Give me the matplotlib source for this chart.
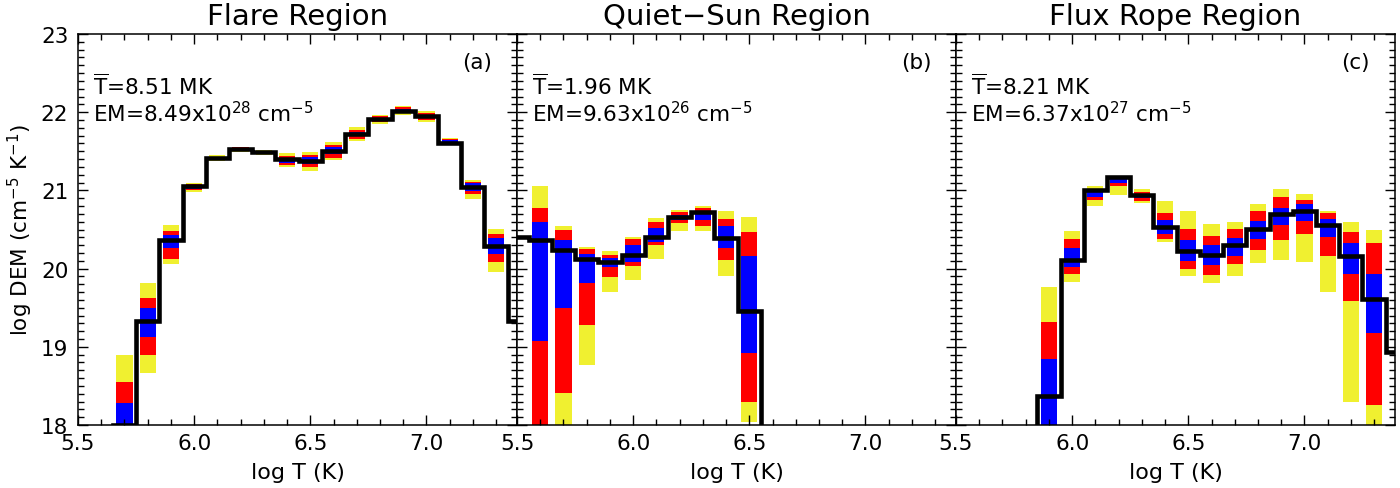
import matplotlib.pyplot as plt
import numpy as np
from matplotlib.ticker import MultipleLocator, FormatStrFormatter

plt.rcParams['font.family'] = ['DejaVu Sans']
plt.rcParams['mathtext.default'] = 'regular'

# --- Flare region (a) ---
flare_t = [5.7, 5.8, 5.9, 6.0, 6.1, 6.2, 6.3, 6.4, 6.5, 6.6, 6.7, 6.8, 6.9, 7.0, 7.1, 7.2, 7.3, 7.4]
flare_dem = [18.0, 19.33, 20.36, 21.06, 21.42, 21.53, 21.49, 21.40, 21.38, 21.51, 21.72, 21.91,
             22.02, 21.95, 21.61, 21.04, 20.29, 19.33]
flare_bt = [5.7, 5.8, 5.9, 6.0, 6.1, 6.2, 6.3, 6.4, 6.5, 6.6, 6.7, 6.8, 6.9, 7.0, 7.1, 7.2, 7.3]
flare_yel = [(17.5, 18.895), (18.665, 19.82), (20.06, 20.56), (20.98, 21.10), (21.37, 21.45),
             (21.49, 21.56), (21.45, 21.52), (21.295, 21.474), (21.253, 21.487), (21.393, 21.615),
             (21.636, 21.806), (21.849, 21.964), (21.964, 22.083), (21.879, 22.011), (21.58, 21.67),
             (20.89, 21.137), (19.953, 20.507)]
flare_red = [(17.7, 18.555), (18.895, 19.62), (20.12, 20.48), (21.00, 21.08), (21.39, 21.43),
             (21.51, 21.55), (21.47, 21.51), (21.325, 21.444), (21.295, 21.457), (21.42, 21.58),
             (21.657, 21.777), (21.87, 21.947), (21.99, 22.062), (21.90, 21.99), (21.593, 21.657),
             (20.954, 21.11), (20.08, 20.443)]
flare_blu = [(17.9, 18.28), (19.13, 19.50), (20.27, 20.43), (21.02, 21.06), (21.40, 21.42),
             (21.52, 21.54), (21.48, 21.50), (21.35, 21.414), (21.337, 21.423), (21.466, 21.55),
             (21.692, 21.743), (21.892, 21.926), (22.006, 22.04), (21.921, 21.964), (21.606, 21.64),
             (20.997, 21.09), (20.188, 20.388)]

# --- Quiet-Sun region (b) ---
quiet_t = [5.5, 5.6, 5.7, 5.8, 5.9, 6.0, 6.1, 6.2, 6.3, 6.4, 6.5]
quiet_dem = [20.41, 20.36, 20.24, 20.12, 20.08, 20.17, 20.40, 20.655, 20.72, 20.39, 19.46]
quiet_bt = [5.6, 5.7, 5.8, 5.9, 6.0, 6.1, 6.2, 6.3, 6.4, 6.5]
quiet_yel = [(17.5, 21.06), (17.5, 20.55), (18.77, 20.28), (19.70, 20.22), (19.86, 20.41),
             (20.12, 20.645), (20.48, 20.75), (20.48, 20.80), (19.90, 20.74), (18.04, 20.655)]
quiet_red = [(17.7, 20.77), (18.41, 20.50), (19.28, 20.25), (19.89, 20.17), (20.03, 20.38),
             (20.30, 20.59), (20.58, 20.72), (20.55, 20.77), (20.11, 20.64), (18.30, 20.47)]
quiet_blu = [(19.08, 20.60), (19.50, 20.36), (19.82, 20.19), (20.02, 20.13), (20.09, 20.30),
             (20.34, 20.52), (20.62, 20.69), (20.62, 20.74), (20.26, 20.54), (18.92, 20.16)]

# --- Flux rope region (c) ---
rope_t = [5.9, 6.0, 6.1, 6.2, 6.3, 6.4, 6.5, 6.6, 6.7, 6.8, 6.9, 7.0, 7.1, 7.2, 7.3, 7.4]
rope_dem = [18.375, 20.11, 21.00, 21.17, 20.94, 20.53, 20.23, 20.17, 20.30, 20.51, 20.70, 20.74,
            20.56, 20.16, 19.61, 18.93]
rope_bt = [5.9, 6.0, 6.1, 6.2, 6.3, 6.4, 6.5, 6.6, 6.7, 6.8, 6.9, 7.0, 7.1, 7.2, 7.3]
rope_yel = [(17.5, 19.76), (19.83, 20.477), (20.805, 21.06), (20.94, 21.188), (20.84, 21.017),
            (20.344, 20.868), (19.91, 20.74), (19.81, 20.57), (19.90, 20.60), (20.07, 20.825),
            (20.114, 21.017), (20.088, 20.95), (19.705, 20.74), (18.30, 20.60), (17.5, 20.50)]
rope_red = [(17.7, 19.32), (19.93, 20.38), (20.88, 21.017), (21.06, 21.18), (20.87, 20.98),
            (20.38, 20.71), (19.994, 20.51), (19.92, 20.42), (20.06, 20.51), (20.24, 20.74),
            (20.37, 20.92), (20.44, 20.88), (20.165, 20.71), (19.59, 20.47), (18.26, 20.33)]
rope_blu = [(17.9, 18.84), (20.016, 20.27), (20.911, 20.996), (21.095, 21.146), (20.90, 20.95),
            (20.44, 20.62), (20.10, 20.36), (20.05, 20.30), (20.157, 20.39), (20.38, 20.61),
            (20.56, 20.78), (20.61, 20.825), (20.40, 20.635), (19.93, 20.33), (19.18, 19.93)]

titles = ['Flare Region', 'Quiet\u2212Sun Region', 'Flux Rope Region']
letters = ['(a)', '(b)', '(c)']
tmean = ['8.51', '1.96', '8.21']
em_mant = ['8.49', '9.63', '6.37']
em_exp = ['28', '26', '27']

YELLOW = '#f0f030'
RED = '#ff0000'
BLUE = '#0000ff'


def draw_panel(ax, logt, dem, bt, yel, red, blu):
    # nested uncertainty ranges: yellow (outer), red, blue (inner)
    for rng, col in ((yel, YELLOW), (red, RED), (blu, BLUE)):
        lo = np.array([r[0] for r in rng])
        hi = np.array([r[1] for r in rng])
        ax.bar(bt, hi - lo, bottom=lo, width=0.07, color=col, linewidth=0, zorder=1)
    logt = np.array(logt)
    edges = np.append(logt - 0.05, logt[-1] + 0.05)
    ax.stairs(dem, edges, baseline=17.0, color='k', linewidth=3.3, zorder=3)


fig = plt.figure(figsize=(14, 4.89), dpi=100)
lefts = [78 / 1400, 517 / 1400, 956 / 1400]
data = [(flare_t, flare_dem, flare_bt, flare_yel, flare_red, flare_blu),
        (quiet_t, quiet_dem, quiet_bt, quiet_yel, quiet_red, quiet_blu),
        (rope_t, rope_dem, rope_bt, rope_yel, rope_red, rope_blu)]

for i, d in enumerate(data):
    ax = fig.add_axes([lefts[i], 0.1288, 439 / 1400, 0.7996])
    draw_panel(ax, *d)
    ax.set_xlim(5.5, 7.39)
    ax.set_ylim(18, 23)
    ax.xaxis.set_major_locator(MultipleLocator(0.5))
    ax.xaxis.set_minor_locator(MultipleLocator(0.1))
    ax.xaxis.set_major_formatter(FormatStrFormatter('%.1f'))
    ax.yaxis.set_major_locator(MultipleLocator(1))
    ax.yaxis.set_minor_locator(MultipleLocator(0.1))
    ax.tick_params(which='both', direction='in', top=True, right=True, width=1)
    ax.tick_params(which='major', length=7, labelsize=15.5)
    ax.tick_params(which='minor', length=4)
    ax.tick_params(axis='x', pad=6)
    ax.tick_params(axis='y', pad=7)
    for sp in ax.spines.values():
        sp.set_linewidth(1.1)
    if i > 0:
        ax.tick_params(labelleft=False)
    else:
        ax.set_ylabel('log DEM (cm$^{-5}$ K$^{-1}$)', fontsize=15.5, labelpad=4)
    ax.set_xlabel('log T (K)', fontsize=16, labelpad=6)
    ax.set_title(titles[i], fontsize=21, pad=7)
    ax.text(0.034, 0.87, r'$\overline{\mathrm{T}}$=' + tmean[i] + ' MK', transform=ax.transAxes,
            fontsize=15.5, va='center', ha='left')
    ax.text(0.034, 0.80, 'EM=' + em_mant[i] + 'x10$^{' + em_exp[i] + '}$ cm$^{-5}$',
            transform=ax.transAxes, fontsize=15.5, va='center', ha='left')
    ax.text(0.909, 0.928, letters[i], transform=ax.transAxes, fontsize=15.5, va='center', ha='center')

fig.savefig('out.png', dpi=100)
